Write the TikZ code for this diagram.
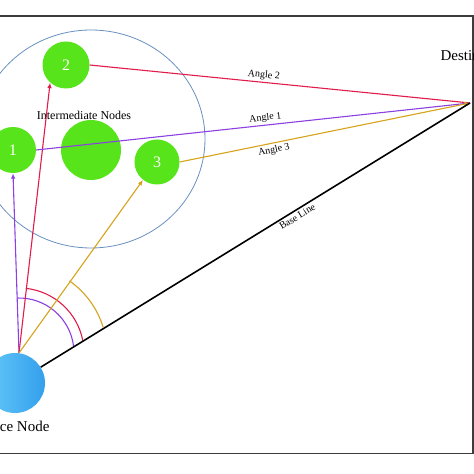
\documentclass[tikz,border=0pt]{standalone}
\usepackage{fontspec}
\setmainfont{Liberation Serif}
\usetikzlibrary{arrows.meta}
\definecolor{cred}{RGB}{226,28,74}
\definecolor{cpurple}{RGB}{140,64,226}
\definecolor{cgold}{RGB}{214,164,28}
\definecolor{cgreen}{RGB}{88,228,26}
\definecolor{cring}{RGB}{104,144,192}
\definecolor{cfrm}{RGB}{60,60,60}
\definecolor{csrcl}{RGB}{100,200,248}
\definecolor{csrcr}{RGB}{52,160,236}
\tikzset{
  gnode/.style={circle, inner sep=0pt, fill=cgreen, text=white, font=\fontsize{16}{16}\selectfont},
  conn/.style={line width=1.1pt},
  tip/.style={-{Latex[length=5.5pt,width=4.5pt]}},
  lbl/.style={font=\fontsize{10}{10}\selectfont, sloped, inner sep=2pt, text=black},
  big/.style={font=\fontsize{15}{15}\selectfont}
}
\begin{document}
\begin{tikzpicture}[x=1pt,y=1pt]
\useasboundingbox (0,0) rectangle (474,474);
\begin{scope}
\clip (0,0) rectangle (474,474);
\fill[white] (0,0) rectangle (474,474);
\draw[line width=1.5pt, cfrm] (-20,20.5) rectangle (473,458);
% region of intermediate nodes
\draw[cring, line width=0.8pt] (91,335) ellipse [x radius=114, y radius=109];
\node[font=\fontsize{12}{12}\selectfont] (itext) at (84,359) {Intermediate Nodes};
% nodes
\node[gnode, minimum size=47pt] (n2) at (66,409) {2};
\node[gnode, minimum size=46pt] (n1) at (13,324) {1};
\node[gnode, minimum size=60pt] (nm) at (91,324) {};
\node[gnode, minimum size=45pt] (n3) at (157,312) {3};
\node[circle, inner sep=0pt, minimum size=60pt, left color=csrcl, right color=csrcr, draw=none] (src) at (15,91) {};
\coordinate (S0) at (19,121);
\coordinate (dest) at (470,371);
% labels
\node[big, anchor=base east] (srclbl) at (53,42) {Source Node};
\node[big, anchor=base west] (dstlbl) at (437,413) {Destination};
% angle arcs
\draw[cpurple, conn] ([shift={(92:55)}]S0) arc[start angle=92, end angle=7, radius=55];
\draw[cred, conn] ([shift={(84:65)}]S0) arc[start angle=84, end angle=11, radius=65];
\draw[cgold, conn] ([shift={(55:88)}]S0) arc[start angle=55, end angle=17, radius=88];
% connectors from source
\draw[cpurple, conn, tip] (S0) -- (n1.south);
\draw[cred, conn, tip] (S0) -- (n2.228);
\draw[cgold, conn, tip] (S0) -- (n3.232);
% connectors to destination
\draw[cred, conn] (n2.east) -- (dest) node[lbl, pos=0.456, above] {Angle 2};
\draw[cpurple, conn] (n1.east) -- (dest) node[lbl, pos=0.53, above] {Angle 1};
\draw[cgold, conn, tip] (n3.east) -- (dest) node[lbl, pos=0.32, below] {Angle 3};
\draw[black, line width=1.6pt] (src) -- (dest) node[lbl, pos=0.59, below] {Base Line};
\end{scope}
\end{tikzpicture}
\end{document}
